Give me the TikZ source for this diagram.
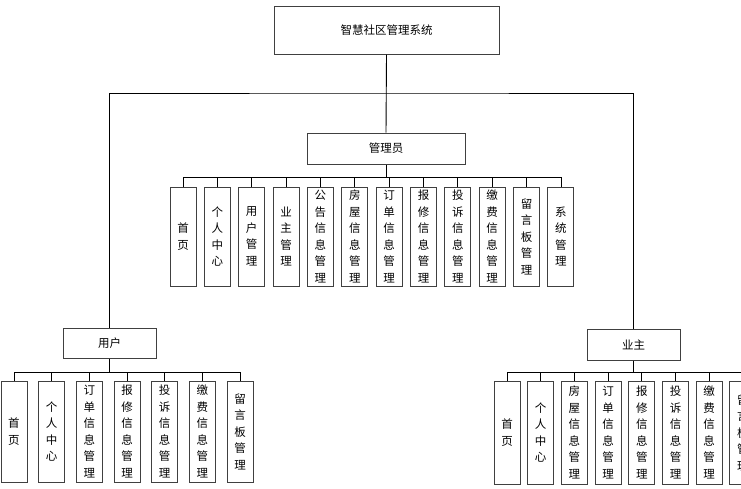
\documentclass[tikz,border=0pt]{standalone}
\usepackage{fontspec}
\setmainfont{Noto Sans CJK SC}
\begin{document}
\begin{tikzpicture}[x=1pt,y=-1pt,
  box/.style={draw=black!75,line width=1pt,fill=white,inner sep=0pt,font=\fontsize{11.5}{16.5}\selectfont},
  vbox/.style={box,minimum width=26pt,minimum height=100pt,align=center},
  ln/.style={draw=black,line width=0.9pt}]
\useasboundingbox (0,0) rectangle (741,488);
\clip (0,0) rectangle (741,488);
\node[box,minimum width=225pt,minimum height=48pt] (root) at (386.5,30) {智慧社区管理系统};
\node[box,minimum width=158pt,minimum height=31pt] (adm) at (386,148.5) {管理员};
\node[box,minimum width=93pt,minimum height=30pt] (usr) at (109.5,343) {用户};
\node[box,minimum width=93pt,minimum height=31pt] (own) at (633.5,344.5) {业主};
\coordinate (busT) at (0,93);
\draw[ln] (root.south) -- (adm.north);
\draw[ln] (usr.north) |- (busT -| root.south) -| (own.north);
% admin children
\coordinate (busA) at (0,177);
\foreach \i/\t in {0/首\\页,1/个\\人\\中\\心,2/用\\户\\管\\理,3/业\\主\\管\\理,4/公\\告\\信\\息\\管\\理,5/房\\屋\\信\\息\\管\\理,6/订\\单\\信\\息\\管\\理,7/报\\修\\信\\息\\管\\理,8/投\\诉\\信\\息\\管\\理,9/缴\\费\\信\\息\\管\\理,10/留\\言\\板\\管\\理,11/系\\统\\管\\理}{
  \node[vbox,minimum height=99pt] (a\i) at ({183+34.36*\i},236.5) {\t};
  \draw[ln] (a\i.north) -- (a\i.north |- busA);
}
\draw[ln] (a0.north |- busA) -- (a11.north |- busA);
\draw[ln] (adm.south) -- (adm.south |- busA);
% user children
\coordinate (busU) at (0,372);
\foreach \i/\t in {0/首\\页,1/个\\人\\中\\心,2/订\\单\\信\\息\\管\\理,3/报\\修\\信\\息\\管\\理,4/投\\诉\\信\\息\\管\\理,5/缴\\费\\信\\息\\管\\理,6/留\\言\\板\\管\\理}{
  \node[vbox,minimum height=101pt] (u\i) at ({14+37.67*\i},431.5) {\t};
  \draw[ln] (u\i.north) -- (u\i.north |- busU);
}
\draw[ln] (u0.north |- busU) -- (u6.north |- busU);
\draw[ln] (usr.south) -- (usr.south |- busU);
% owner children
\coordinate (busO) at (0,372);
\foreach \i/\t in {0/首\\页,1/个\\人\\中\\心,2/房\\屋\\信\\息\\管\\理,3/订\\单\\信\\息\\管\\理,4/报\\修\\信\\息\\管\\理,5/投\\诉\\信\\息\\管\\理,6/缴\\费\\信\\息\\管\\理,7/留\\言\\板\\管\\理}{
  \node[vbox,minimum height=103pt] (o\i) at ({507+33.7*\i},432.5) {\t};
  \draw[ln] (o\i.north) -- (o\i.north |- busO);
}
\draw[ln] (o0.north |- busO) -- (o7.north |- busO);
\draw[ln] (own.south) -- (own.south |- busO);
\end{tikzpicture}
\end{document}
